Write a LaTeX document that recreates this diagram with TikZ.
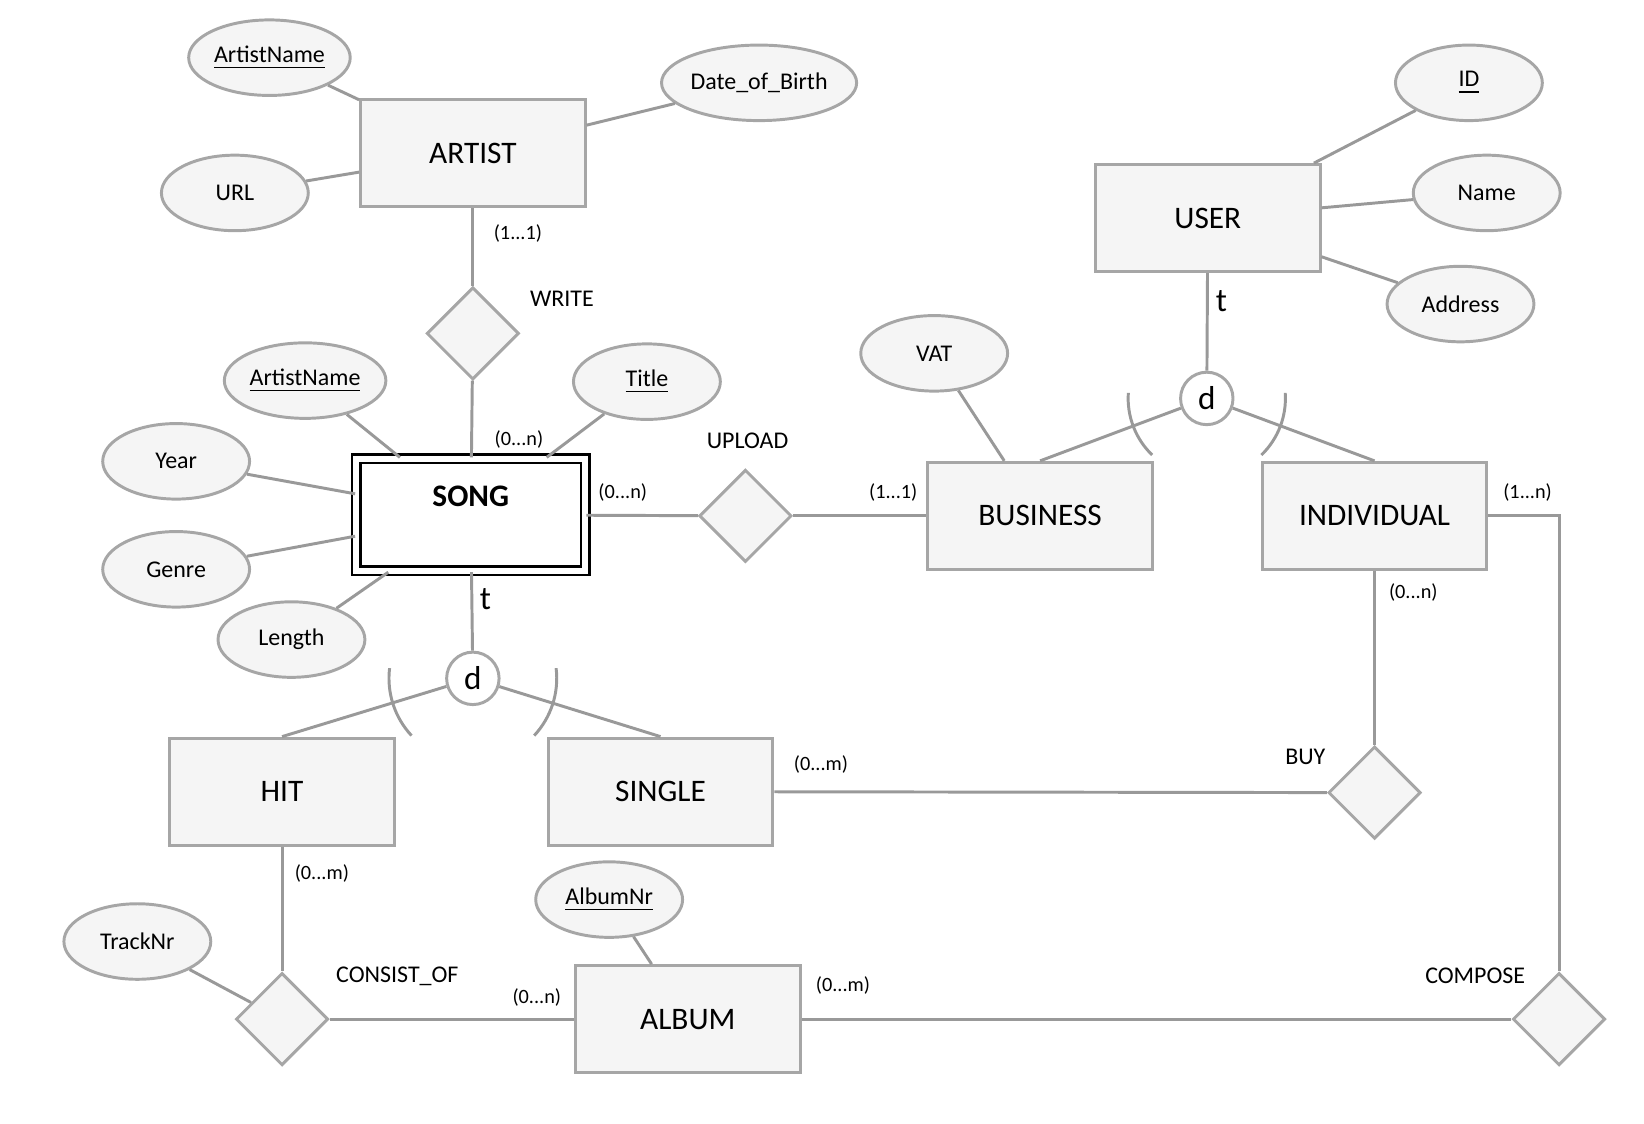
\documentclass[tikz,border=0pt]{standalone}
\usepackage{fontspec}
\setmainfont{Carlito}
\usetikzlibrary{shapes.geometric,positioning}

\begin{document}
\begin{tikzpicture}
[
x=0.01cm, y=-0.01cm,
entnode/.style={rectangle, draw=gray!70, fill=gray!8, thick, minimum width=2.14cm, minimum height=1.02cm, font=\fontsize{8.5}{10}\selectfont},
relnode/.style={diamond, draw=gray!70, fill=gray!8, thick, inner sep=0pt, minimum width=0.88cm, minimum height=0.88cm},
attrnode/.style={ellipse, draw=gray!70, fill=gray!8, thick, minimum width=1.4cm, minimum height=0.72cm, inner sep=0pt, font=\fontsize{6.5}{8}\selectfont},
dnode/.style={circle, draw=gray!70, fill=white, thick, minimum size=0.5cm, inner sep=0pt, font=\fontsize{9}{10}\selectfont},
nodelabel/.style={font=\fontsize{5.5}{6}\selectfont},
rellabel/.style={font=\fontsize{6.5}{8}\selectfont},
conn/.style={draw=gray!80, thick},
]
\useasboundingbox (0,0) rectangle (1568,1072);
%entities
\node[entnode] (artist) at (451,146) {ARTIST};
\node[entnode] (user) at (1152,208) {USER};
\node[entnode, fill=white, draw=black, line width=0.7pt, double=white, double distance=1.6pt, minimum width=2.18cm, minimum height=1.07cm] (song) at (449,491) {};
\node[font=\fontsize{8.5}{10}\selectfont\bfseries] at (449,473) {SONG};
\node[entnode] (business) at (992,492) {BUSINESS};
\node[entnode] (individual) at (1311,492) {INDIVIDUAL};
\node[entnode] (hit) at (269,755) {HIT};
\node[entnode] (single) at (630,755) {SINGLE};
\node[entnode] (album) at (656,972) {ALBUM};
%relationships
\node[relnode] (write) at (451,318) {};
\node[relnode] (upload) at (711,492) {};
\node[relnode] (buy) at (1311,756) {};
\node[relnode] (consist) at (269,972) {};
\node[relnode] (compose) at (1487,972) {};
\node[rellabel] at (536,285) {WRITE};
\node[rellabel] at (713,420) {UPLOAD};
\node[rellabel] at (1245,722) {BUY};
\node[rellabel] at (379,931) {CONSIST\_OF};
\node[rellabel] at (1407,931) {COMPOSE};
%attributes
\node[attrnode, minimum width=1.54cm] (aname) at (257,55) {\underline{ArtistName}};
\node[attrnode, minimum width=1.86cm] (dob) at (724,79) {Date\_of\_Birth};
\node[attrnode] (url) at (224,184) {URL};
\node[attrnode] (uid) at (1401,79) {\underline{ID}};
\node[attrnode] (uname) at (1418,184) {Name};
\node[attrnode] (address) at (1393,290) {Address};
\node[attrnode] (vat) at (891,337) {VAT};
\node[attrnode, minimum width=1.54cm] (sname) at (291,363) {\underline{ArtistName}};
\node[attrnode] (title) at (617,364) {\underline{Title}};
\node[attrnode] (year) at (168,440) {Year};
\node[attrnode] (genre) at (168,543) {Genre};
\node[attrnode] (length) at (278,610) {Length};
\node[attrnode] (albumnr) at (581,858) {\underline{AlbumNr}};
\node[attrnode] (tracknr) at (131,898) {TrackNr};
%disjoint circles
\node[dnode] (ud) at (1151,380) {d};
\node[dnode] (sd) at (451,647) {d};
\coordinate (cturn) at (1487,492);
%connectors
\draw[conn] (aname) -- (artist);
\draw[conn] (url) -- (artist);
\draw[conn] (dob) -- (artist);
\draw[conn] (uid) -- (user);
\draw[conn] (uname) -- (user);
\draw[conn] (address) -- (user);
\draw[conn] (artist) -- (write);
\draw[conn] (write) -- (song);
\draw[conn] (sname) -- (song);
\draw[conn] (title) -- (song);
\draw[conn] (year) -- (song);
\draw[conn] (genre) -- (song);
\draw[conn] (length) -- (song);
\draw[conn] (song) -- (upload);
\draw[conn] (upload) -- (business);
\draw[conn] (vat) -- (business);
\draw[conn] (user) -- (ud);
\draw[conn] (ud) -- (business.north);
\draw[conn] (ud) -- (individual.north);
\draw[conn] (song) -- (sd);
\draw[conn] (sd) -- (hit.north);
\draw[conn] (sd) -- (single.north);
\draw[conn] (individual) -- (buy);
\draw[conn] (buy) -- (single);
\draw[conn] (individual) -- (cturn) -- (compose);
\draw[conn] (compose) -- (album);
\draw[conn] (album) -- (consist);
\draw[conn] (hit) -- (consist);
\draw[conn] (tracknr) -- (consist);
\draw[conn] (albumnr) -- (album);
%subset arcs
\draw[conn] (ud.center) ++(134:75) arc[start angle=134, end angle=184, radius=75];
\draw[conn] (ud.center) ++(-4:75) arc[start angle=-4, end angle=46, radius=75];
\draw[conn] (sd.center) ++(137:80) arc[start angle=137, end angle=187, radius=80];
\draw[conn] (sd.center) ++(-7:80) arc[start angle=-7, end angle=43, radius=80];
%cardinalities
\node[nodelabel] at (494,223) {(1...1)};
\node[nodelabel] at (495,419) {(0...n)};
\node[nodelabel] at (594,470) {(0...n)};
\node[nodelabel] at (852,470) {(1...1)};
\node[nodelabel] at (1457,470) {(1...n)};
\node[nodelabel] at (1348,565) {(0...n)};
\node[nodelabel] at (783,729) {(0...m)};
\node[nodelabel] at (307,833) {(0...m)};
\node[nodelabel] at (804,940) {(0...m)};
\node[nodelabel] at (512,951) {(0...n)};
\node[font=\fontsize{9}{10}\selectfont] at (1165,287) {t};
\node[font=\fontsize{9}{10}\selectfont] at (463,571) {t};
\end{tikzpicture}
\end{document}
